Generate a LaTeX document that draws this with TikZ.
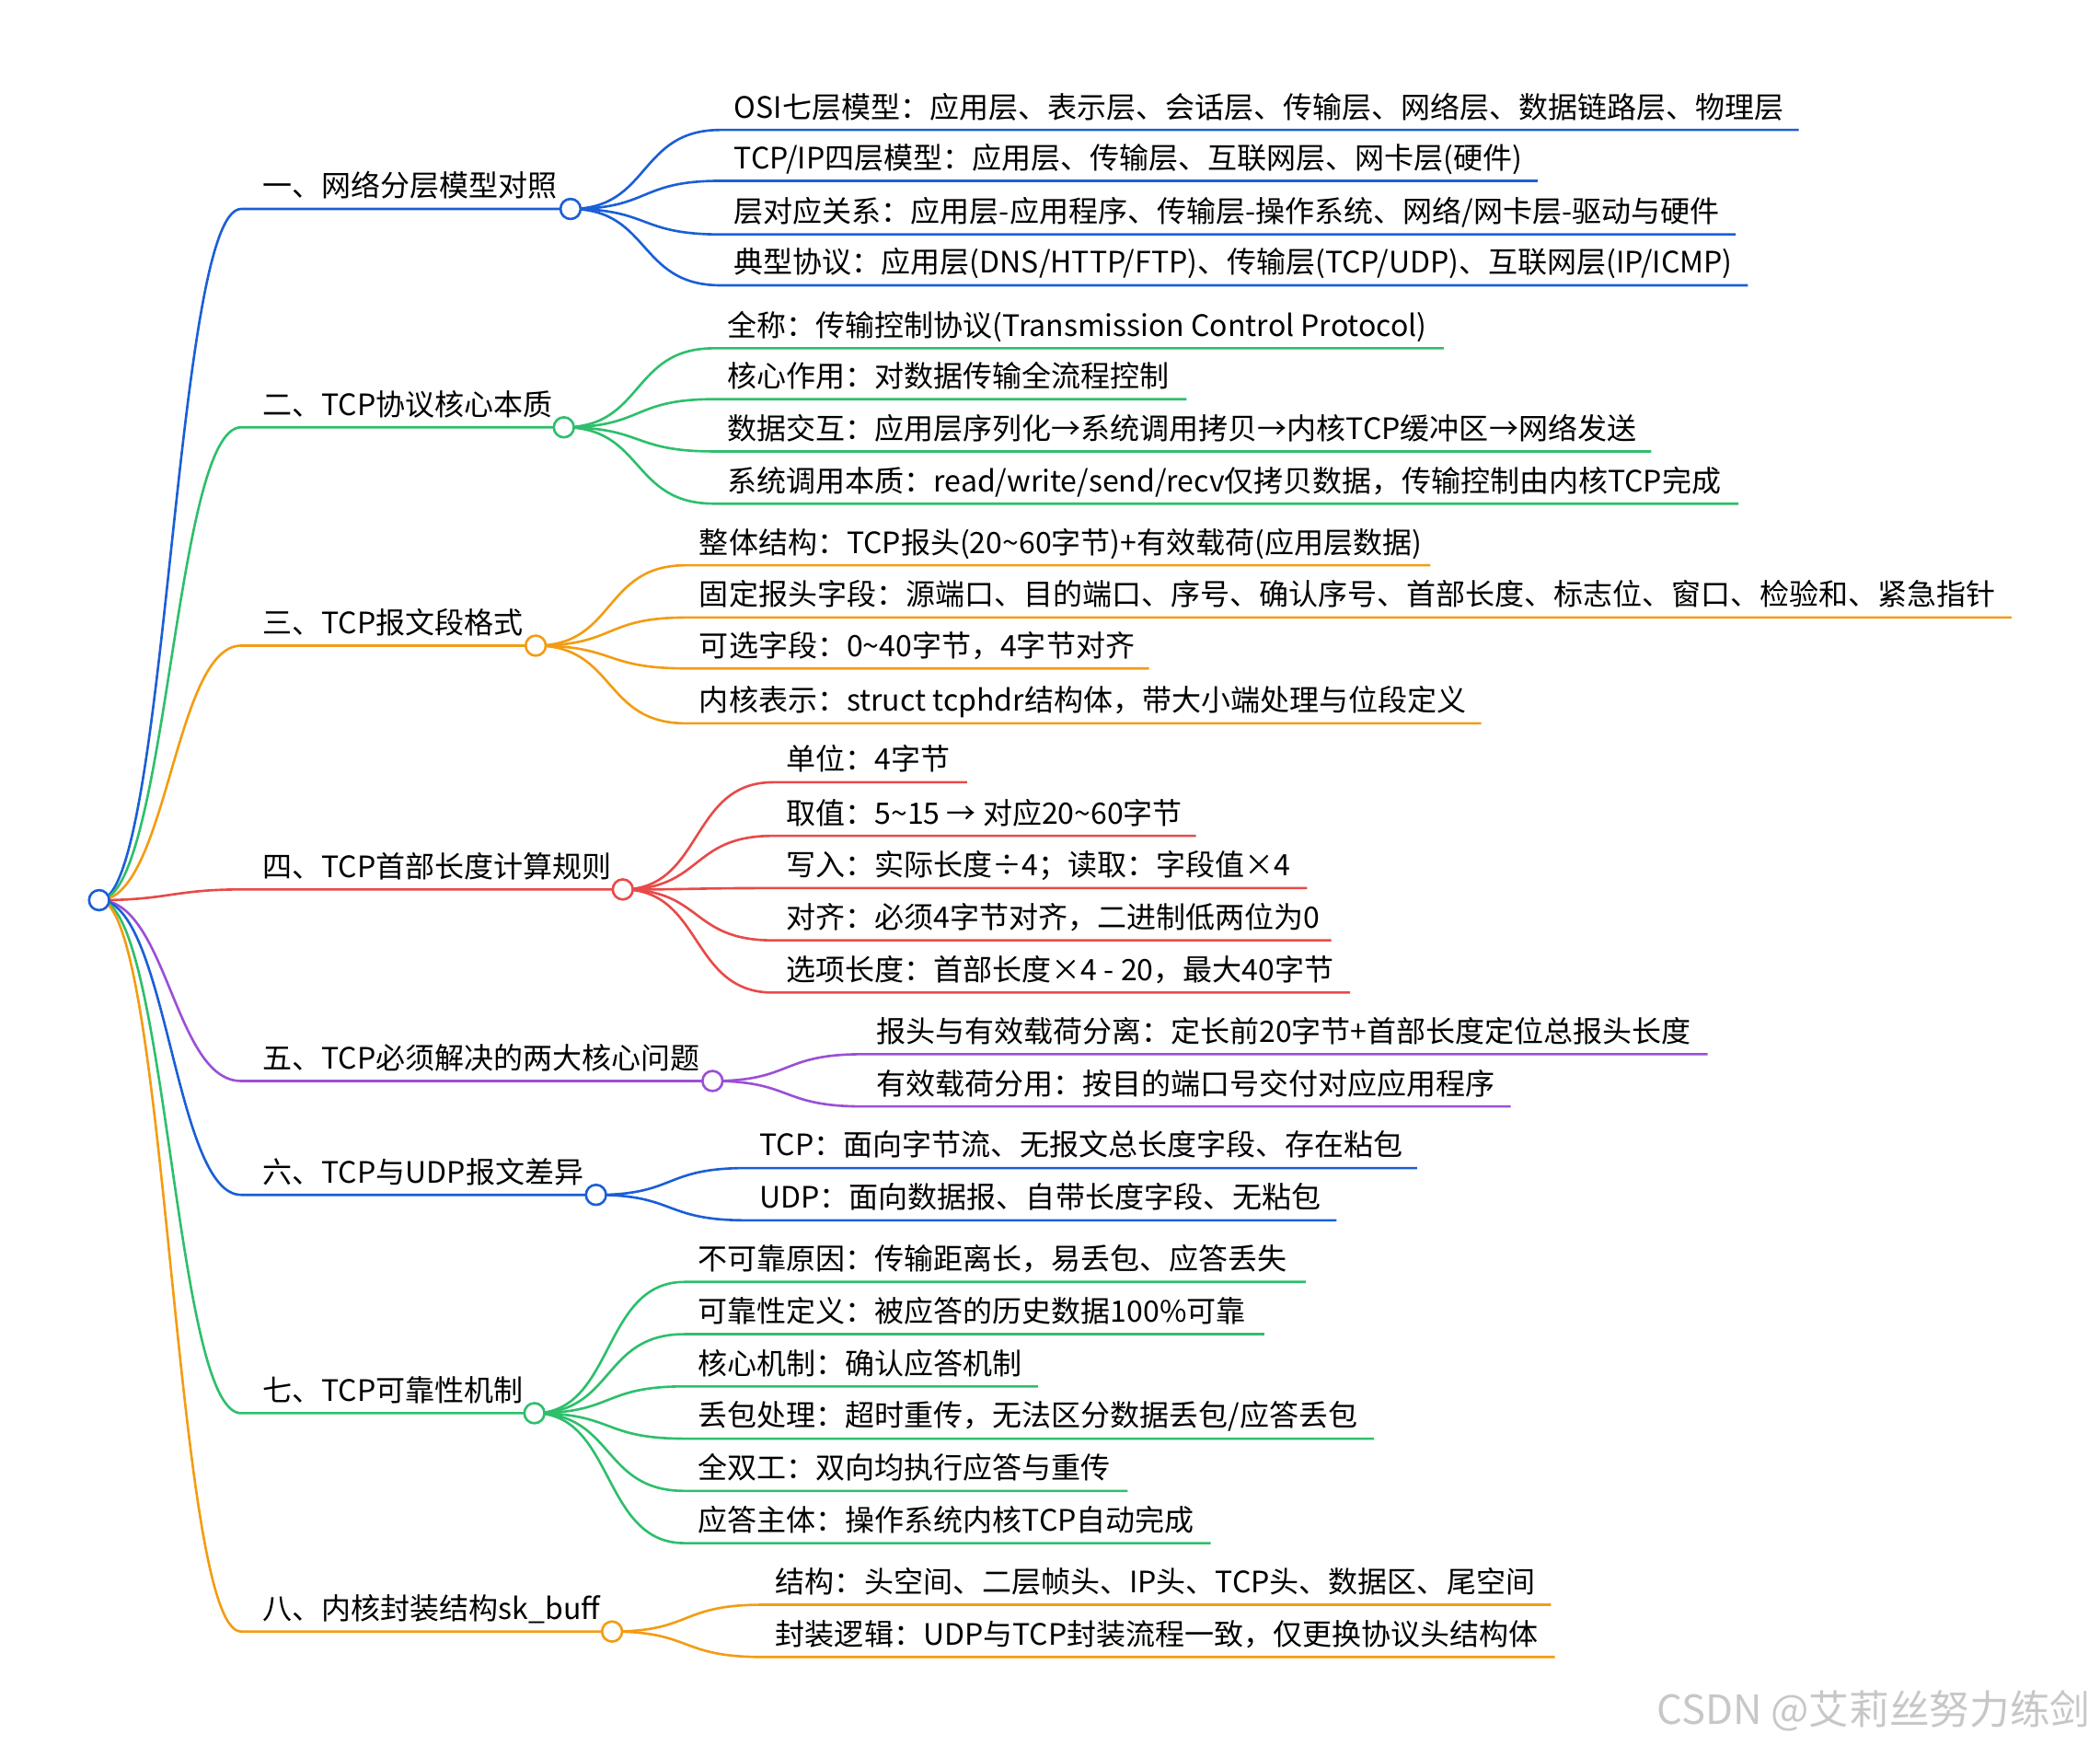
\documentclass[tikz,border=0pt]{standalone}
\usepackage{fontspec}
\setmainfont{Noto Sans CJK SC}
\definecolor{cb}{HTML}{1A5FD6}
\definecolor{cg}{HTML}{2DBF6B}
\definecolor{co}{HTML}{F39C12}
\definecolor{cr}{HTML}{E84A4A}
\definecolor{cp}{HTML}{9B4FD6}
\tikzset{
 lbl/.style={anchor=base west,inner sep=0pt,font=\fontsize{22}{26}\selectfont},
 dot/.style={circle,draw=#1,fill=white,line width=1.8pt,minimum size=15pt,inner sep=0pt},
 ln/.style={draw=#1,line width=1.8pt}
}
\newcommand{\branch}[6]{% name, color, parent y, circle x, label, children {y/end/text}
 \coordinate (#1s) at (180,#3);
 \draw[ln=#2] (r) .. controls (125,672) and (130,#3) .. (#1s) -- (#4,#3);
 \node[lbl] (#1t) at (196,#3-9) {#5};
 \foreach \cy/\ce/\ct [count=\i] in {#6} {
   \node[lbl] (#1c\i) at (#4+122,\cy-9) {\ct};
   \coordinate (#1a\i) at (#4+112,\cy);
   \coordinate (#1e\i) at (\ce,\cy);
   \draw[ln=#2] (#4,#3) .. controls (#4+60,#3) and (#4+50,\cy) .. (#1a\i) -- (#1e\i);
 }
 \node[dot=#2] (#1) at (#4,#3) {};
}
\begin{document}
\begin{tikzpicture}[x=1pt,y=-1pt]
\useasboundingbox (0,0) rectangle (1568,1303);
\coordinate (r) at (74,672);
\branch{p1}{cb}{156}{426}{一、网络分层模型对照}{97/1343/{OSI七层模型：应用层、表示层、会话层、传输层、网络层、数据链路层、物理层},135/1148/{TCP/IP四层模型：应用层、传输层、互联网层、网卡层(硬件)},175/1296/{层对应关系：应用层-应用程序、传输层-操作系统、网络/网卡层-驱动与硬件},213/1305/{典型协议：应用层(DNS/HTTP/FTP)、传输层(TCP/UDP)、互联网层(IP/ICMP)}}
\branch{p2}{cg}{319}{421}{二、TCP协议核心本质}{260/1078/{全称：传输控制协议(Transmission Control Protocol)},298/886/{核心作用：对数据传输全流程控制},337/1233/{数据交互：应用层序列化→系统调用拷贝→内核TCP缓冲区→网络发送},376/1298/{系统调用本质：read/write/send/recv仅拷贝数据，传输控制由内核TCP完成}}
\branch{p3}{co}{482}{400}{三、TCP报文段格式}{422/1068/{整体结构：TCP报头(20\textasciitilde 60字节)+有效载荷(应用层数据)},461/1502/{固定报头字段：源端口、目的端口、序号、确认序号、首部长度、标志位、窗口、检验和、紧急指针},499/858/{可选字段：0\textasciitilde 40字节，4字节对齐},540/1106/{内核表示：struct tcphdr结构体，带大小端处理与位段定义}}
\branch{p4}{cr}{664}{465}{四、TCP首部长度计算规则}{584/722/{单位：4字节},624/893/{取值：5\textasciitilde 15 → 对应20\textasciitilde 60字节},663/976/{写入：实际长度÷4；读取：字段值×4},702/994/{对齐：必须4字节对齐，二进制低两位为0},741/1008/{选项长度：首部长度×4 - 20，最大40字节}}
\branch{p5}{cp}{807}{532}{五、TCP必须解决的两大核心问题}{787/1275/{报头与有效载荷分离：定长前20字节+首部长度定位总报头长度},826/1128/{有效载荷分用：按目的端口号交付对应应用程序}}
\branch{p6}{cb}{892}{445}{六、TCP与UDP报文差异}{872/1058/{TCP：面向字节流、无报文总长度字段、存在粘包},911/998/{UDP：面向数据报、自带长度字段、无粘包}}
\branch{p7}{cg}{1055}{399}{七、TCP可靠性机制}{957/975/{不可靠原因：传输距离长，易丢包、应答丢失},996/944/{可靠性定义：被应答的历史数据100\%可靠},1035/775/{核心机制：确认应答机制},1074/1026/{丢包处理：超时重传，无法区分数据丢包/应答丢包},1113/842/{全双工：双向均执行应答与重传},1152/904/{应答主体：操作系统内核TCP自动完成}}
\branch{p8}{co}{1218}{457}{八、内核封装结构sk\_buff}{1198/1158/{结构：头空间、二层帧头、IP头、TCP头、数据区、尾空间},1237/1161/{封装逻辑：UDP与TCP封装流程一致，仅更换协议头结构体}}
\node[dot=cb] (root) at (r) {};
\node[lbl,text=black!22,font=\fontsize{30}{34}\selectfont] (wm) at (1237,1287) {CSDN @艾莉丝努力练剑};
\end{tikzpicture}
\end{document}
